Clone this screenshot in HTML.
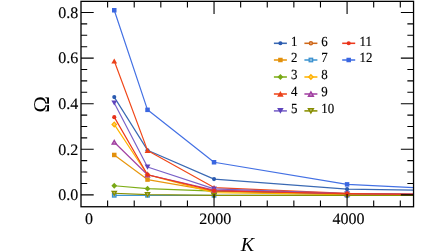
<!DOCTYPE html>
<html><head><meta charset="utf-8"><title>Plot</title>
<style>html,body{margin:0;padding:0;background:#fff;}body{width:448px;height:252px;overflow:hidden;}svg{display:block;text-rendering:geometricPrecision;}</style>
</head><body>
<svg width="448" height="252" viewBox="0 0 448 252">
<rect x="0" y="0" width="448" height="252" fill="#fff"/>
<defs><clipPath id="cp"><rect x="81.0" y="1.35" width="332.55" height="205.4"/></clipPath></defs>
<g clip-path="url(#cp)">
<polyline points="114.26,97.08 147.52,150.18 214.04,179.12 347.08,189.15 413.60,190.06" fill="none" stroke="#3A69B3" stroke-width="1.2" stroke-linejoin="round"/>
<circle cx="114.26" cy="97.08" r="2.05" fill="#2A5AB0"/>
<circle cx="147.52" cy="150.18" r="2.05" fill="#2A5AB0"/>
<circle cx="214.04" cy="179.12" r="2.05" fill="#2A5AB0"/>
<circle cx="347.08" cy="189.15" r="2.05" fill="#2A5AB0"/>
<polyline points="114.26,154.97 147.52,179.58 214.04,191.20 347.08,194.17 413.60,194.62" fill="none" stroke="#E8970E" stroke-width="1.2" stroke-linejoin="round"/>
<rect x="112.01" y="152.72" width="4.50" height="4.50" fill="#E2900C"/>
<rect x="145.27" y="177.33" width="4.50" height="4.50" fill="#E2900C"/>
<rect x="211.79" y="188.95" width="4.50" height="4.50" fill="#E2900C"/>
<rect x="344.83" y="191.92" width="4.50" height="4.50" fill="#E2900C"/>
<polyline points="114.26,185.73 147.52,188.70 214.04,191.20 347.08,193.94 413.60,194.62" fill="none" stroke="#7FAE18" stroke-width="1.2" stroke-linejoin="round"/>
<polygon points="114.26,182.83 117.16,185.73 114.26,188.63 111.36,185.73" fill="#78A816"/>
<polygon points="147.52,185.80 150.42,188.70 147.52,191.60 144.62,188.70" fill="#78A816"/>
<polygon points="214.04,188.30 216.94,191.20 214.04,194.10 211.14,191.20" fill="#78A816"/>
<polygon points="347.08,191.04 349.98,193.94 347.08,196.84 344.18,193.94" fill="#78A816"/>
<polyline points="114.26,61.07 147.52,150.41 214.04,187.56 347.08,193.37 413.60,194.17" fill="none" stroke="#F0481A" stroke-width="1.2" stroke-linejoin="round"/>
<polygon points="114.26,58.47 117.16,63.57 111.36,63.57" fill="#EA401A"/>
<polygon points="147.52,147.81 150.42,152.91 144.62,152.91" fill="#EA401A"/>
<polygon points="214.04,184.96 216.94,190.06 211.14,190.06" fill="#EA401A"/>
<polygon points="347.08,190.77 349.98,195.87 344.18,195.87" fill="#EA401A"/>
<polyline points="114.26,103.01 147.52,167.05 214.04,188.92 347.08,193.71 413.60,194.39" fill="none" stroke="#7A62C8" stroke-width="1.2" stroke-linejoin="round"/>
<polygon points="114.26,105.61 117.16,100.51 111.36,100.51" fill="#5E44BC"/>
<polygon points="147.52,169.65 150.42,164.55 144.62,164.55" fill="#5E44BC"/>
<polygon points="214.04,191.52 216.94,186.42 211.14,186.42" fill="#5E44BC"/>
<polygon points="347.08,196.31 349.98,191.21 344.18,191.21" fill="#5E44BC"/>
<polyline points="114.26,195.31 147.52,195.31 214.04,195.31 347.08,195.31 413.60,195.31" fill="none" stroke="#3F97D2" stroke-width="1.2" stroke-linejoin="round"/>
<rect x="112.51" y="193.56" width="3.50" height="3.50" fill="#89BCE2" stroke="#3A90CE" stroke-width="1.25"/>
<rect x="145.77" y="193.56" width="3.50" height="3.50" fill="#89BCE2" stroke="#3A90CE" stroke-width="1.25"/>
<rect x="212.29" y="193.56" width="3.50" height="3.50" fill="#89BCE2" stroke="#3A90CE" stroke-width="1.25"/>
<rect x="345.33" y="193.56" width="3.50" height="3.50" fill="#89BCE2" stroke="#3A90CE" stroke-width="1.25"/>
<polyline points="114.26,124.43 147.52,174.79 214.04,192.57 347.08,194.62 413.60,194.85" fill="none" stroke="#FFB400" stroke-width="1.2" stroke-linejoin="round"/>
<polygon points="114.26,122.13 116.46,124.43 114.26,126.73 112.06,124.43" fill="#FFD066" stroke="#FFB000" stroke-width="1.25"/>
<polygon points="147.52,172.49 149.72,174.79 147.52,177.09 145.32,174.79" fill="#FFD066" stroke="#FFB000" stroke-width="1.25"/>
<polygon points="214.04,190.27 216.24,192.57 214.04,194.87 211.84,192.57" fill="#FFD066" stroke="#FFB000" stroke-width="1.25"/>
<polygon points="347.08,192.32 349.28,194.62 347.08,196.92 344.88,194.62" fill="#FFD066" stroke="#FFB000" stroke-width="1.25"/>
<polyline points="114.26,142.21 147.52,174.79 214.04,190.06 347.08,193.94 413.60,194.39" fill="none" stroke="#A343A3" stroke-width="1.2" stroke-linejoin="round"/>
<polygon points="114.26,140.31 116.46,144.21 112.06,144.21" fill="#C68BC6" stroke="#A03EA0" stroke-width="1.25"/>
<polygon points="147.52,172.89 149.72,176.79 145.32,176.79" fill="#C68BC6" stroke="#A03EA0" stroke-width="1.25"/>
<polygon points="214.04,188.16 216.24,192.06 211.84,192.06" fill="#C68BC6" stroke="#A03EA0" stroke-width="1.25"/>
<polygon points="347.08,192.04 349.28,195.94 344.88,195.94" fill="#C68BC6" stroke="#A03EA0" stroke-width="1.25"/>
<polyline points="114.26,193.25 147.52,194.62 214.04,195.31 347.08,195.31 413.60,195.31" fill="none" stroke="#8A9000" stroke-width="1.2" stroke-linejoin="round"/>
<polygon points="114.26,195.15 116.46,191.25 112.06,191.25" fill="#B6BA66" stroke="#868C00" stroke-width="1.25"/>
<polygon points="147.52,196.52 149.72,192.62 145.32,192.62" fill="#B6BA66" stroke="#868C00" stroke-width="1.25"/>
<polygon points="214.04,197.21 216.24,193.31 211.84,193.31" fill="#B6BA66" stroke="#868C00" stroke-width="1.25"/>
<polygon points="347.08,197.21 349.28,193.31 344.88,193.31" fill="#B6BA66" stroke="#868C00" stroke-width="1.25"/>
<polyline points="114.26,117.14 147.52,174.79 214.04,190.86 347.08,193.60 413.60,194.28" fill="none" stroke="#EE3A1C" stroke-width="1.2" stroke-linejoin="round"/>
<circle cx="114.26" cy="117.14" r="2.05" fill="#E8321A"/>
<circle cx="147.52" cy="174.79" r="2.05" fill="#E8321A"/>
<circle cx="214.04" cy="190.86" r="2.05" fill="#E8321A"/>
<circle cx="347.08" cy="193.60" r="2.05" fill="#E8321A"/>
<polyline points="114.26,10.25 147.52,109.84 214.04,162.26 347.08,184.37 413.60,187.56" fill="none" stroke="#4471E4" stroke-width="1.2" stroke-linejoin="round"/>
<rect x="112.01" y="8.00" width="4.50" height="4.50" fill="#3A66E0"/>
<rect x="145.27" y="107.59" width="4.50" height="4.50" fill="#3A66E0"/>
<rect x="211.79" y="160.01" width="4.50" height="4.50" fill="#3A66E0"/>
<rect x="344.83" y="182.12" width="4.50" height="4.50" fill="#3A66E0"/>
</g>
<rect x="81.0" y="1.35" width="332.55" height="205.4" fill="none" stroke="#000" stroke-width="1.3"/>
<path d="M107.61 206.75 v-6.2 M107.61 1.35 v6.2 M134.22 206.75 v-6.2 M134.22 1.35 v6.2 M160.82 206.75 v-6.2 M160.82 1.35 v6.2 M187.43 206.75 v-6.2 M187.43 1.35 v6.2 M214.04 206.75 v-12.7 M214.04 1.35 v12.7 M240.65 206.75 v-6.2 M240.65 1.35 v6.2 M267.26 206.75 v-6.2 M267.26 1.35 v6.2 M293.86 206.75 v-6.2 M293.86 1.35 v6.2 M320.47 206.75 v-6.2 M320.47 1.35 v6.2 M347.08 206.75 v-12.7 M347.08 1.35 v12.7 M373.69 206.75 v-6.2 M373.69 1.35 v6.2 M400.30 206.75 v-6.2 M400.30 1.35 v6.2 M81.0 194.85 h12.7 M413.55 194.85 h-12.7 M81.0 183.45 h6.2 M413.55 183.45 h-6.2 M81.0 172.06 h6.2 M413.55 172.06 h-6.2 M81.0 160.66 h6.2 M413.55 160.66 h-6.2 M81.0 149.27 h12.7 M413.55 149.27 h-12.7 M81.0 137.88 h6.2 M413.55 137.88 h-6.2 M81.0 126.48 h6.2 M413.55 126.48 h-6.2 M81.0 115.08 h6.2 M413.55 115.08 h-6.2 M81.0 103.69 h12.7 M413.55 103.69 h-12.7 M81.0 92.29 h6.2 M413.55 92.29 h-6.2 M81.0 80.90 h6.2 M413.55 80.90 h-6.2 M81.0 69.50 h6.2 M413.55 69.50 h-6.2 M81.0 58.11 h12.7 M413.55 58.11 h-12.7 M81.0 46.71 h6.2 M413.55 46.71 h-6.2 M81.0 35.32 h6.2 M413.55 35.32 h-6.2 M81.0 23.92 h6.2 M413.55 23.92 h-6.2 M81.0 12.53 h12.7 M413.55 12.53 h-12.7" fill="none" stroke="#000" stroke-width="1.1"/>
<g font-family="'Liberation Serif', serif" font-size="16" fill="#000" stroke="#000" stroke-width="0.15">
<text x="78.3" y="200.15" text-anchor="end">0.0</text>
<text x="78.3" y="154.57" text-anchor="end">0.2</text>
<text x="78.3" y="108.99" text-anchor="end">0.4</text>
<text x="78.3" y="63.41" text-anchor="end">0.6</text>
<text x="78.3" y="17.83" text-anchor="end">0.8</text>
<text x="89.10" y="223.7" text-anchor="middle">0</text>
<text x="215.34" y="223.7" text-anchor="middle">2000</text>
<text x="348.48" y="223.7" text-anchor="middle">4000</text>
</g>
<text x="247.5" y="251" text-anchor="middle" font-family="'Liberation Serif', serif" font-style="italic" font-size="20">K</text>
<text transform="translate(49.3 104.5) rotate(-90)" text-anchor="middle" font-family="'Liberation Serif', serif" font-size="22.5">Ω</text>
<g font-family="'Liberation Serif', serif" font-size="13.9" fill="#000">
<path d="M273.90 43.3 h13" stroke="#3A69B3" stroke-width="1.55" fill="none"/>
<circle cx="280.40" cy="43.30" r="2.05" fill="#2A5AB0"/>
<text transform="translate(290.90 45.75) scale(0.93 1)" stroke="#000" stroke-width="0.15">1</text>
<path d="M273.90 60.0 h13" stroke="#E8970E" stroke-width="1.55" fill="none"/>
<rect x="278.15" y="57.75" width="4.50" height="4.50" fill="#E2900C"/>
<text transform="translate(290.90 62.45) scale(0.93 1)" stroke="#000" stroke-width="0.15">2</text>
<path d="M273.90 77.0 h13" stroke="#7FAE18" stroke-width="1.55" fill="none"/>
<polygon points="280.40,74.10 283.30,77.00 280.40,79.90 277.50,77.00" fill="#78A816"/>
<text transform="translate(290.90 79.45) scale(0.93 1)" stroke="#000" stroke-width="0.15">3</text>
<path d="M273.90 94.0 h13" stroke="#F0481A" stroke-width="1.55" fill="none"/>
<polygon points="280.40,91.09 283.65,96.80 277.15,96.80" fill="#EA401A"/>
<text transform="translate(290.90 96.45) scale(0.93 1)" stroke="#000" stroke-width="0.15">4</text>
<path d="M273.90 110.9 h13" stroke="#7A62C8" stroke-width="1.55" fill="none"/>
<polygon points="280.40,113.81 283.65,108.10 277.15,108.10" fill="#5E44BC"/>
<text transform="translate(290.90 113.35) scale(0.93 1)" stroke="#000" stroke-width="0.15">5</text>
<path d="M304.40 43.3 h13" stroke="#D0691A" stroke-width="1.55" fill="none"/>
<circle cx="310.90" cy="43.30" r="1.60" fill="#E0A273" stroke="#CC6416" stroke-width="1.25"/>
<text transform="translate(321.20 45.75) scale(0.93 1)" stroke="#000" stroke-width="0.15">6</text>
<path d="M304.40 60.0 h13" stroke="#3F97D2" stroke-width="1.55" fill="none"/>
<rect x="309.15" y="58.25" width="3.50" height="3.50" fill="#89BCE2" stroke="#3A90CE" stroke-width="1.25"/>
<text transform="translate(321.20 62.45) scale(0.93 1)" stroke="#000" stroke-width="0.15">7</text>
<path d="M304.40 77.0 h13" stroke="#FFB400" stroke-width="1.55" fill="none"/>
<polygon points="310.90,74.70 313.10,77.00 310.90,79.30 308.70,77.00" fill="#FFD066" stroke="#FFB000" stroke-width="1.25"/>
<text transform="translate(321.20 79.45) scale(0.93 1)" stroke="#000" stroke-width="0.15">8</text>
<path d="M304.40 94.0 h13" stroke="#A343A3" stroke-width="1.55" fill="none"/>
<polygon points="310.90,91.87 313.36,96.24 308.44,96.24" fill="#C68BC6" stroke="#A03EA0" stroke-width="1.40"/>
<text transform="translate(321.20 96.45) scale(0.93 1)" stroke="#000" stroke-width="0.15">9</text>
<path d="M304.40 110.9 h13" stroke="#8A9000" stroke-width="1.55" fill="none"/>
<polygon points="310.90,113.03 313.36,108.66 308.44,108.66" fill="#B6BA66" stroke="#868C00" stroke-width="1.40"/>
<text transform="translate(321.20 113.35) scale(0.93 1)" stroke="#000" stroke-width="0.15">10</text>
<path d="M342.20 43.3 h13" stroke="#EE3A1C" stroke-width="1.55" fill="none"/>
<circle cx="348.70" cy="43.30" r="2.05" fill="#E8321A"/>
<text transform="translate(359.60 45.75) scale(0.93 1)" stroke="#000" stroke-width="0.15">11</text>
<path d="M342.20 60.0 h13" stroke="#4471E4" stroke-width="1.55" fill="none"/>
<rect x="346.45" y="57.75" width="4.50" height="4.50" fill="#3A66E0"/>
<text transform="translate(359.60 62.45) scale(0.93 1)" stroke="#000" stroke-width="0.15">12</text>
</g>
</svg>
</body></html>
